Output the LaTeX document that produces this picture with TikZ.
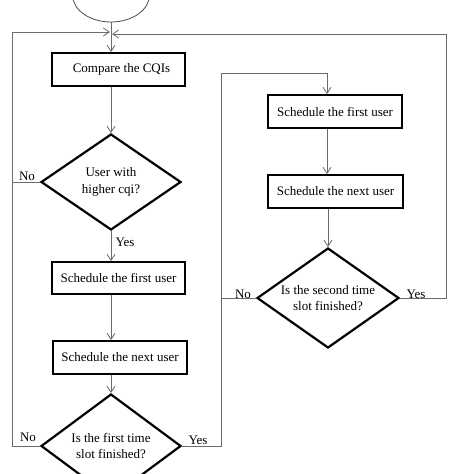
\documentclass[tikz,border=0pt]{standalone}
\usepackage{fontspec}
\setmainfont{Liberation Serif}
\usetikzlibrary{arrows.meta,shapes.geometric}
\begin{document}
\begin{tikzpicture}[x=1pt,y=-1pt,
  txt/.style={font=\fontsize{13}{16.5}\selectfont},
  box/.style={txt,draw=black,line width=2pt,inner sep=0pt,rectangle},
  dia/.style={txt,diamond,draw=black,line width=2.2pt,inner sep=0pt,align=center},
  conn/.style={draw=black!58,line width=0.8pt},
  arr/.style={conn,-{Straight Barb[length=6pt,width=8pt]}},
  lbl/.style={txt,inner sep=0pt}]
\useasboundingbox (0,0) rectangle (474,474);
% start
\node[txt,draw=black!70,line width=0.8pt,ellipse,minimum width=77pt,minimum height=54pt,inner sep=0pt] (start) at (111,-5) {Start};
% boxes
\node[box,minimum width=133pt,minimum height=33pt] (cmp) at (118.5,69.5) {\hspace*{6pt}Compare the CQIs};
\node[dia,aspect=1.46,minimum width=140pt,minimum height=96pt] (d1) at (111,182) {User with\\higher cqi?};
\node[box,minimum width=133pt,minimum height=32pt] (l1) at (118.5,278) {Schedule the first user};
\node[box,minimum width=134pt,minimum height=33pt] (l2) at (120,357.5) {Schedule the next user};
\node[dia,aspect=1.35,minimum width=140pt,minimum height=104pt] (d3) at (111,446) {Is the first time\\slot finished?};
\node[box,minimum width=134pt,minimum height=33pt] (r1) at (335,111.5) {Schedule the first user};
\node[box,minimum width=135pt,minimum height=33pt] (r2) at (335.5,191.5) {Schedule the next user};
\node[dia,aspect=1.42,minimum width=142pt,minimum height=100pt] (d2) at (328,298) {Is the second time\\slot finished?};
% coordinates
\coordinate (LL) at (12,32);
\coordinate (JL) at (110,32);
\coordinate (JR) at (112,34);
\coordinate (RL) at (221,73);
\coordinate (RT) at (327,73);
\coordinate (RR) at (446,34);
% connectors
\draw[arr] (start.south) -- (start.south |- cmp.north);
\draw[arr] (cmp.south -| d1.north) -- (d1.north);
\draw[arr] (d1.south) -- (d1.south |- l1.north);
\draw[arr] (l1.south -| d1.south) -- (l2.north -| d1.south);
\draw[arr] (l2.south -| d3.north) -- (d3.north);
\draw[conn] (d1.west) -- (d1.west -| LL);
\draw[arr] (d3.west) -| (LL) -- (JL);
\draw[arr] (d3.east) -| (RL) -- (RT) -- (RT |- r1.north);
\draw[arr] (r1.south -| RT) -- (r2.north -| RT);
\draw[arr] (r2.south -| d2.north) -- (d2.north);
\draw[conn] (d2.west) -- (d2.west -| RL);
\draw[arr] (d2.east) -| (RR) -- (JR);
% labels
\node[lbl] (no1) at (27,176) {No};
\node[lbl] (yes1) at (125,242) {Yes};
\node[lbl] (no3) at (28,437) {No};
\node[lbl] (yes3) at (198,440) {Yes};
\node[lbl] (no2) at (243,294) {No};
\node[lbl] (yes2) at (416,294) {Yes};
\end{tikzpicture}
\end{document}
